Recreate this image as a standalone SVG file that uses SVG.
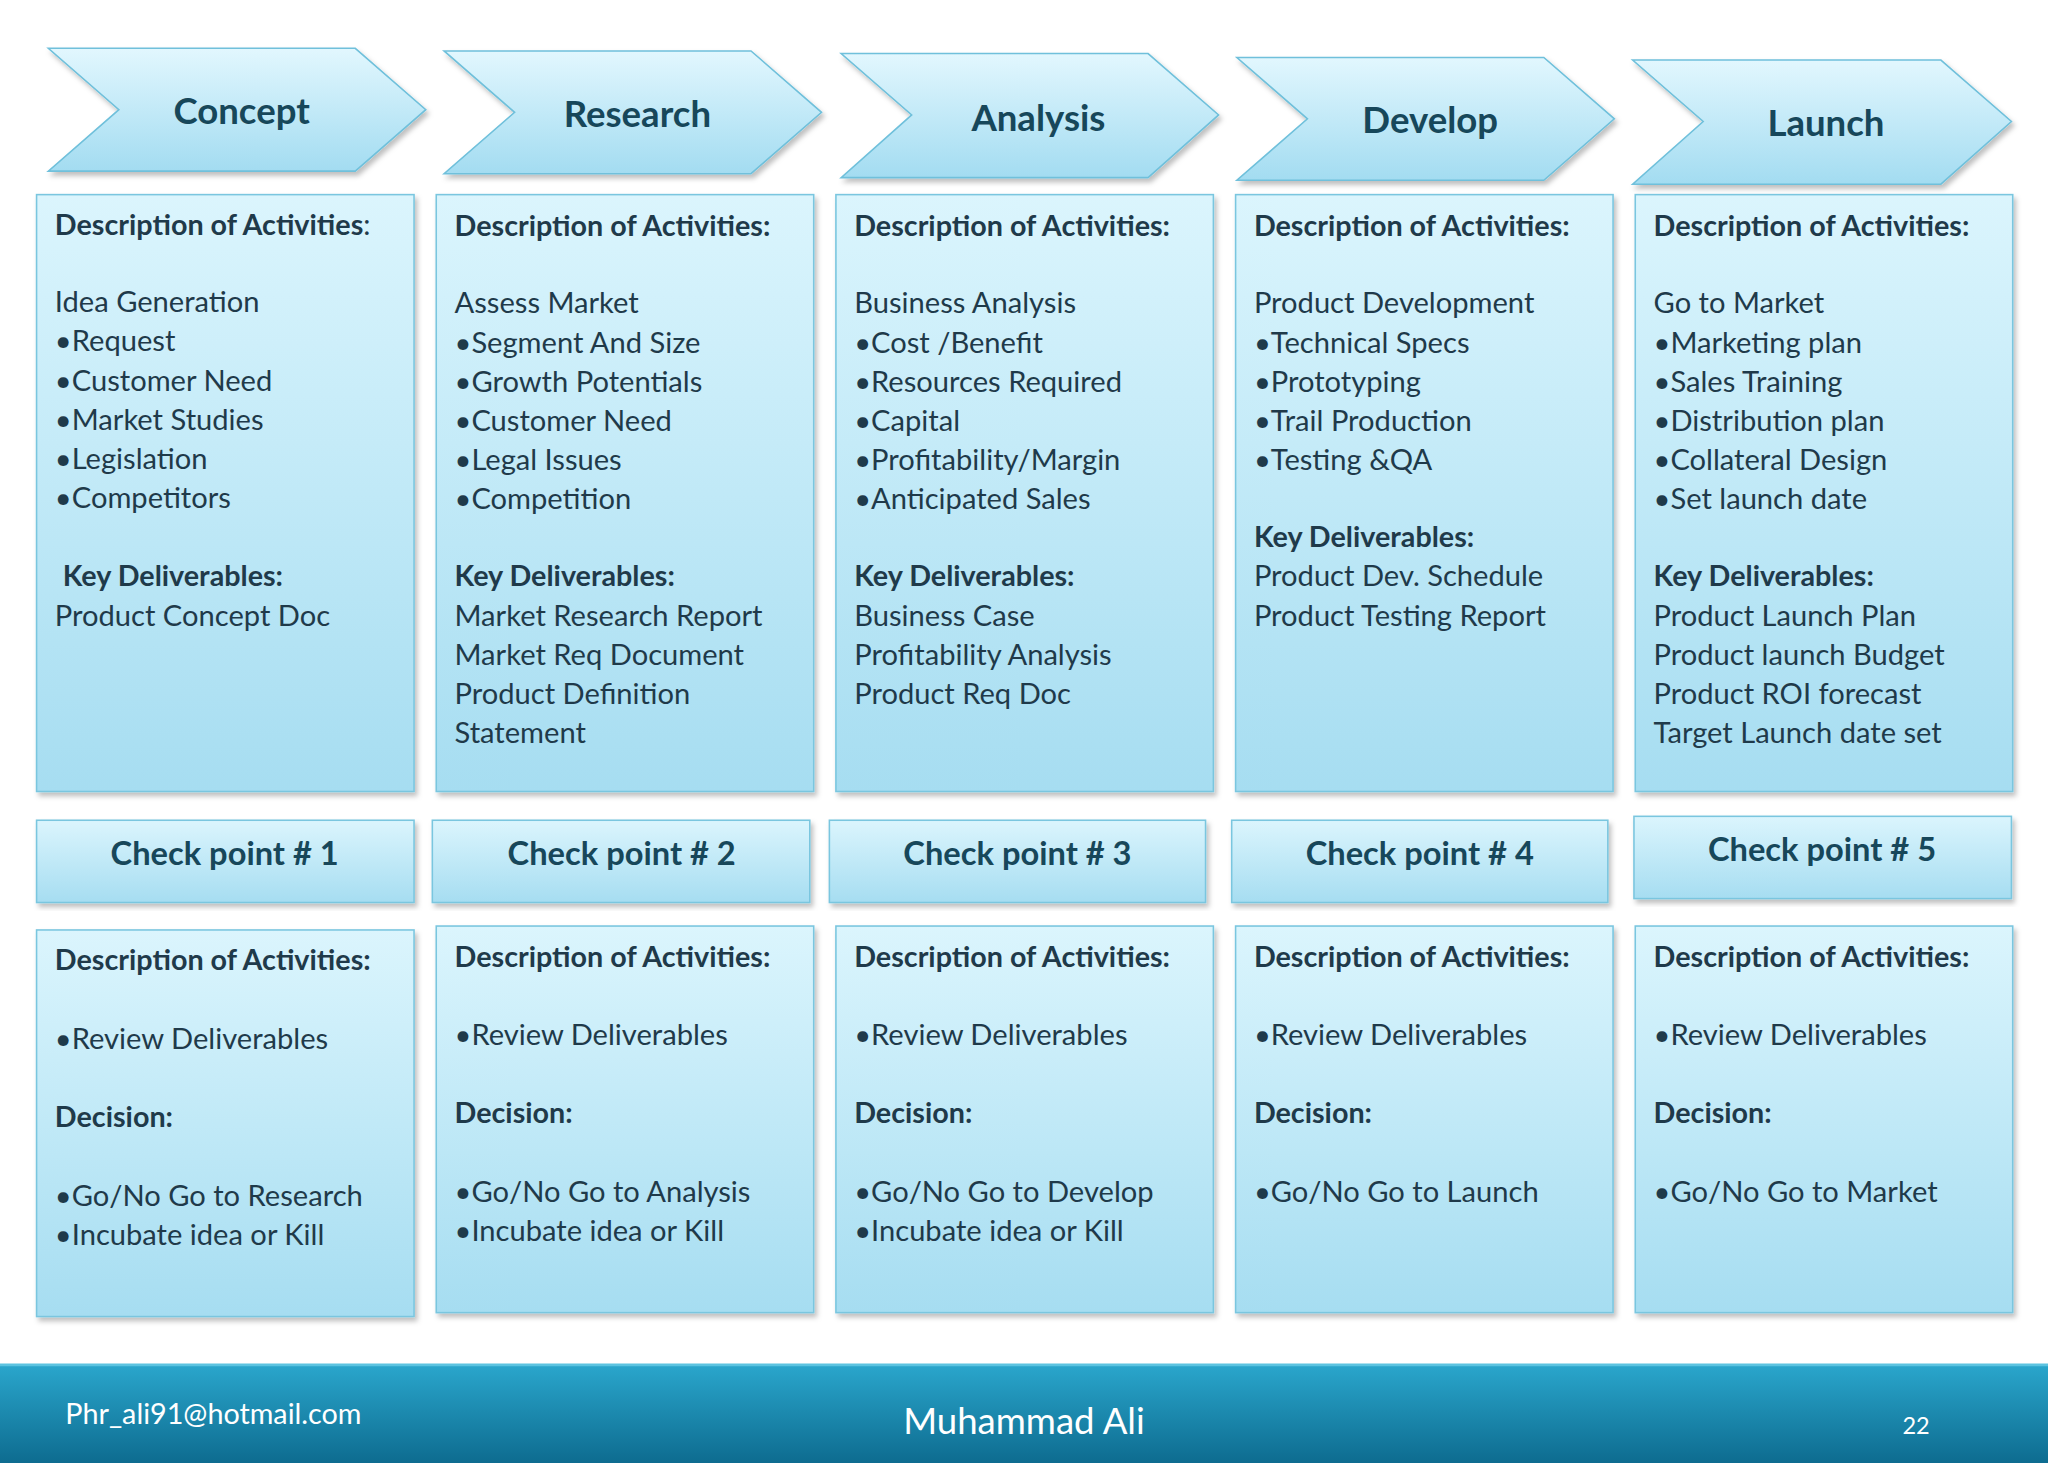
<svg xmlns="http://www.w3.org/2000/svg" width="2048" height="1463" viewBox="0 0 2048 1463">
<defs>
<linearGradient id="bx" x1="0" y1="0" x2="0" y2="1"><stop offset="0" stop-color="#dbf5fd"/><stop offset="1" stop-color="#a6ddf1"/></linearGradient>
<linearGradient id="ch" x1="0" y1="0" x2="0" y2="1"><stop offset="0" stop-color="#e2f7fe"/><stop offset="1" stop-color="#a3dcf1"/></linearGradient>
<linearGradient id="ft" x1="0" y1="0" x2="0" y2="1"><stop offset="0" stop-color="#2aa6cc"/><stop offset="1" stop-color="#0d6b8f"/></linearGradient>
<filter id="sh" x="-5%" y="-5%" width="110%" height="115%"><feDropShadow dx="2" dy="3" stdDeviation="2" flood-color="#000" flood-opacity="0.25"/></filter>
<style>
.b{fill:url(#bx);stroke:#7ac6df;stroke-width:1.2;filter:url(#sh)}
.c{fill:url(#ch);stroke:#6fc0db;stroke-width:1.2;filter:url(#sh)}
text{font-family:Lato,"Open Sans","Liberation Sans",sans-serif;fill:#1f3a4a}
.t{font-size:22.3px}
.h{font-size:22px;font-weight:bold}
.cv{font-size:28px;font-weight:bold;fill:#17475a;text-anchor:middle}
.cp{font-size:25px;font-weight:bold;fill:#17475a;text-anchor:middle}
</style>
</defs>
<rect width="2048" height="1463" fill="#ffffff"/>
<g transform="scale(1.30612)">
<g id="chevrons">
<g id="n-concept"><polygon class="c" points="37,37 272,37 326,84 272,131 37,131 91,84"/><text class="cv" x="185" y="95">Concept</text></g>
<g id="n-research"><polygon class="c" points="340,39 575,39 629,86 575,133 340,133 394,86"/><text class="cv" x="488" y="97">Research</text></g>
<g id="n-analysis"><polygon class="c" points="644,41 879,41 933,88 879,136 644,136 698,88"/><text class="cv" x="795" y="100">Analysis</text></g>
<g id="n-develop"><polygon class="c" points="947,44 1182,44 1236,91 1182,138 947,138 1001,91"/><text class="cv" x="1095" y="102">Develop</text></g>
<g id="n-launch"><polygon class="c" points="1250,46 1486,46 1540,93 1486,141 1250,141 1304,93"/><text class="cv" x="1398" y="104">Launch</text></g>
</g>
<g id="top">
<g id="t1"><rect class="b" x="28" y="149" width="289" height="457"/>
<text class="h" x="42" y="180">Description of Activities<tspan font-weight="normal">:</tspan></text>
<text class="t" x="42" y="239">Idea Generation</text><text class="t" x="42" y="269">•Request</text><text class="t" x="42" y="299">•Customer Need</text><text class="t" x="42" y="329">•Market Studies</text><text class="t" x="42" y="359">•Legislation</text><text class="t" x="42" y="389">•Competitors</text>
<text class="h" x="48" y="449">Key Deliverables:</text><text class="t" x="42" y="479">Product Concept Doc</text></g>
<g id="t2"><rect class="b" x="334" y="149" width="289" height="457"/>
<text class="h" x="348" y="181">Description of Activities:</text>
<text class="t" x="348" y="240">Assess Market</text><text class="t" x="348" y="270">•Segment And Size</text><text class="t" x="348" y="300">•Growth Potentials</text><text class="t" x="348" y="330">•Customer Need</text><text class="t" x="348" y="360">•Legal Issues</text><text class="t" x="348" y="390">•Competition</text>
<text class="h" x="348" y="449">Key Deliverables:</text><text class="t" x="348" y="479">Market Research Report</text><text class="t" x="348" y="509">Market Req Document</text><text class="t" x="348" y="539">Product Definition</text><text class="t" x="348" y="569">Statement</text></g>
<g id="t3"><rect class="b" x="640" y="149" width="289" height="457"/>
<text class="h" x="654" y="181">Description of Activities:</text>
<text class="t" x="654" y="240">Business Analysis</text><text class="t" x="654" y="270">•Cost /Benefit</text><text class="t" x="654" y="300">•Resources Required</text><text class="t" x="654" y="330">•Capital</text><text class="t" x="654" y="360">•Profitability/Margin</text><text class="t" x="654" y="390">•Anticipated Sales</text>
<text class="h" x="654" y="449">Key Deliverables:</text><text class="t" x="654" y="479">Business Case</text><text class="t" x="654" y="509">Profitability Analysis</text><text class="t" x="654" y="539">Product Req Doc</text></g>
<g id="t4"><rect class="b" x="946" y="149" width="289" height="457"/>
<text class="h" x="960" y="181">Description of Activities:</text>
<text class="t" x="960" y="240">Product Development</text><text class="t" x="960" y="270">•Technical Specs</text><text class="t" x="960" y="300">•Prototyping</text><text class="t" x="960" y="330">•Trail Production</text><text class="t" x="960" y="360">•Testing &amp;QA</text>
<text class="h" x="960" y="419">Key Deliverables:</text><text class="t" x="960" y="449">Product Dev. Schedule</text><text class="t" x="960" y="479">Product Testing Report</text></g>
<g id="t5"><rect class="b" x="1252" y="149" width="289" height="457"/>
<text class="h" x="1266" y="181">Description of Activities:</text>
<text class="t" x="1266" y="240">Go to Market</text><text class="t" x="1266" y="270">•Marketing plan</text><text class="t" x="1266" y="300">•Sales Training</text><text class="t" x="1266" y="330">•Distribution plan</text><text class="t" x="1266" y="360">•Collateral Design</text><text class="t" x="1266" y="390">•Set launch date</text>
<text class="h" x="1266" y="449">Key Deliverables:</text><text class="t" x="1266" y="479">Product Launch Plan</text><text class="t" x="1266" y="509">Product launch Budget</text><text class="t" x="1266" y="539">Product ROI forecast</text><text class="t" x="1266" y="569">Target Launch date set</text></g>
</g>
<g id="checkpoints">
<g id="cp1"><rect class="b" x="28" y="628" width="289" height="63"/><text class="cp" x="172" y="662">Check point # 1</text></g>
<g id="cp2"><rect class="b" x="331" y="628" width="289" height="63"/><text class="cp" x="476" y="662">Check point # 2</text></g>
<g id="cp3"><rect class="b" x="635" y="628" width="288" height="63"/><text class="cp" x="779" y="662">Check point # 3</text></g>
<g id="cp4"><rect class="b" x="943" y="628" width="288" height="63"/><text class="cp" x="1087" y="662">Check point # 4</text></g>
<g id="cp5"><rect class="b" x="1251" y="625" width="289" height="63"/><text class="cp" x="1395" y="659">Check point # 5</text></g>
</g>
<g id="bottom">
<g id="b1"><rect class="b" x="28" y="712" width="289" height="296"/>
<text class="h" x="42" y="743">Description of Activities:</text><text class="t" x="42" y="803">•Review Deliverables</text><text class="h" x="42" y="863">Decision:</text><text class="t" x="42" y="923">•Go/No Go to Research</text><text class="t" x="42" y="953">•Incubate idea or Kill</text></g>
<g id="b2"><rect class="b" x="334" y="709" width="289" height="296"/>
<text class="h" x="348" y="740">Description of Activities:</text><text class="t" x="348" y="800">•Review Deliverables</text><text class="h" x="348" y="860">Decision:</text><text class="t" x="348" y="920">•Go/No Go to Analysis</text><text class="t" x="348" y="950">•Incubate idea or Kill</text></g>
<g id="b3"><rect class="b" x="640" y="709" width="289" height="296"/>
<text class="h" x="654" y="740">Description of Activities:</text><text class="t" x="654" y="800">•Review Deliverables</text><text class="h" x="654" y="860">Decision:</text><text class="t" x="654" y="920">•Go/No Go to Develop</text><text class="t" x="654" y="950">•Incubate idea or Kill</text></g>
<g id="b4"><rect class="b" x="946" y="709" width="289" height="296"/>
<text class="h" x="960" y="740">Description of Activities:</text><text class="t" x="960" y="800">•Review Deliverables</text><text class="h" x="960" y="860">Decision:</text><text class="t" x="960" y="920">•Go/No Go to Launch</text></g>
<g id="b5"><rect class="b" x="1252" y="709" width="289" height="296"/>
<text class="h" x="1266" y="740">Description of Activities:</text><text class="t" x="1266" y="800">•Review Deliverables</text><text class="h" x="1266" y="860">Decision:</text><text class="t" x="1266" y="920">•Go/No Go to Market</text></g>
</g>
<g id="connectors"></g>
<g id="footer">
<rect x="0" y="1045" width="1568" height="76" fill="url(#ft)"/>
<line x1="0" y1="1045" x2="1568" y2="1045" stroke="#5cc3e0" stroke-width="2"/>
<text x="50" y="1090" font-size="22" style="fill:#ffffff">Phr_ali91@hotmail.com</text>
<text x="784" y="1098" font-size="28" text-anchor="middle" style="fill:#ffffff">Muhammad Ali</text>
<text x="1467" y="1098" font-size="18" text-anchor="middle" style="fill:#ffffff">22</text>
</g>
</g>
</svg>
